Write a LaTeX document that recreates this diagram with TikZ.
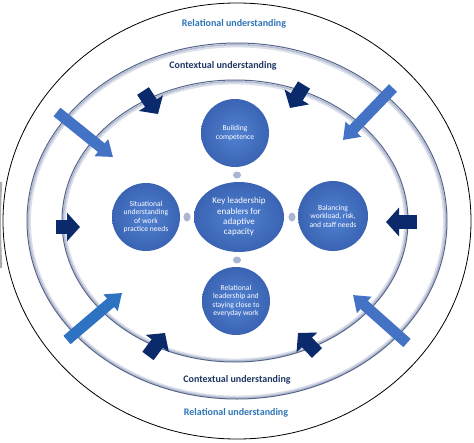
\documentclass[tikz,border=0pt]{standalone}
\usepackage{fontspec}
\setmainfont{Carlito}
\usetikzlibrary{arrows.meta,shapes.geometric,calc}
\definecolor{navyc}{HTML}{0B2A6B}
\definecolor{midblue}{HTML}{4472C4}
\definecolor{brightblue}{HTML}{2E72C2}
\definecolor{reltext}{HTML}{2E75B6}
\definecolor{contextc}{HTML}{1F3864}
\definecolor{ringline}{HTML}{55658A}
\definecolor{ringshadowA}{HTML}{B4BCD2}
\definecolor{ringshadowB}{HTML}{DADFEA}
\definecolor{connc}{HTML}{A9B5D2}
\definecolor{circin}{HTML}{5282D2}
\definecolor{circout}{HTML}{3A63B3}
\begin{document}
\begin{tikzpicture}[x=1pt,y=-1pt,
  enabler/.style={circle, minimum size=68pt, inner sep=0pt, align=center, text=white,
    inner color=circin, outer color=circout, font=\fontsize{7.6}{8.4}\selectfont},
  keynode/.style={ellipse, minimum width=90pt, minimum height=70pt, inner sep=0pt, align=center,
    text=white, inner color=circin, outer color=circout, font=\fontsize{9}{10.3}\selectfont},
  smallconn/.style={ellipse, minimum width=8pt, minimum height=7pt, inner sep=0pt, fill=connc},
  navyarrow/.style={draw=navyc, line width=14pt, -{Triangle[width=28pt,length=13pt]}},
  bluearrow/.style={draw=midblue, line width=11pt, -{Triangle[width=21pt,length=15pt]}},
  ringlabel/.style={font=\bfseries\fontsize{10}{12}\selectfont, inner sep=0pt},
  ringmain/.style={draw=ringline, line width=1pt},
  shadeA/.style={draw=ringshadowA, line width=1.6pt},
  shadeB/.style={draw=ringshadowB, line width=1.8pt},
]
\useasboundingbox (0,0) rectangle (474,442);
\fill[white] (0,0) rectangle (474,442);

% rings
\draw[black, line width=0.8pt] (237,221) ellipse [x radius=234pt, y radius=218pt];
\draw[gray!65, line width=2pt] (1.2,182) .. controls (-0.5,221) .. (1.2,268);
\draw[shadeB] (237,221.5) ellipse [x radius=207pt, y radius=175pt];
\draw[shadeA] (237,221.3) ellipse [x radius=208.6pt, y radius=176.6pt];
\draw[ringmain] (237,221) ellipse [x radius=210pt, y radius=178pt];
\draw[shadeB] (235,221.5) ellipse [x radius=170pt, y radius=138pt];
\draw[shadeA] (235,221.3) ellipse [x radius=171.6pt, y radius=139.6pt];
\draw[ringmain] (235,221) ellipse [x radius=173pt, y radius=141pt];

% ring labels
\node[ringlabel, text=reltext] (reltop) at (234,24) {Relational understanding};
\node[ringlabel, text=contextc] (contop) at (223,66) {Contextual understanding};
\node[ringlabel, text=contextc] (conbot) at (237,380) {Contextual understanding};
\node[ringlabel, text=reltext] (relbot) at (236,413) {Relational understanding};

% arrow end points
\coordinate (n1t) at (143,91);  \coordinate (n1h) at (158,114);
\coordinate (n2t) at (304,85);  \coordinate (n2h) at (290,108);
\coordinate (n3t) at (56,227);  \coordinate (n3h) at (80,227);
\coordinate (n4t) at (417,222); \coordinate (n4h) at (386,222);
\coordinate (n5t) at (148,356); \coordinate (n5h) at (165,333);
\coordinate (n6t) at (317,353); \coordinate (n6h) at (298,333);
\coordinate (b1t) at (57,112);  \coordinate (b1h) at (113,157);
\coordinate (b2t) at (393,88);  \coordinate (b2h) at (343,140);
\coordinate (b3t) at (67,340);  \coordinate (b3h) at (122,293);
\coordinate (b4t) at (407,343); \coordinate (b4h) at (353,295);

% dark arrows
\draw[navyarrow] (n1t) -- (n1h);
\draw[navyarrow] (n2t) -- (n2h);
\draw[navyarrow] (n3t) -- (n3h);
\draw[navyarrow] (n4t) -- (n4h);
\draw[navyarrow] (n5t) -- (n5h);
\draw[navyarrow] (n6t) -- (n6h);

% blue arrows
\draw[bluearrow] (b1t) -- (b1h);
\draw[bluearrow] (b2t) -- (b2h);
\draw[bluearrow, draw=brightblue] (b3t) -- (b3h);
\draw[bluearrow] (b4t) -- (b4h);

% enablers
\node[keynode] (key) at (239,217) {Key leadership\\enablers for\\adaptive\\capacity};
\node[enabler] (top) at (235,133) {Building\\competence};
\node[enabler] (left) at (146,217) {Situational\\understanding\\of work\\practice needs};
\node[enabler, minimum size=70pt] (right) at (333,216) {Balancing\\workload, risk,\\and staff needs};
\node[enabler] (bottom) at (236,301) {Relational\\leadership and\\staying close to\\everyday work};

% small connectors
\node[smallconn] (c1) at (237,175) {};
\node[smallconn, minimum width=7pt, minimum height=9pt] (c2) at (187,217) {};
\node[smallconn, minimum width=7pt, minimum height=9pt] (c3) at (292,217) {};
\node[smallconn] (c4) at (237,260) {};
\end{tikzpicture}
\end{document}
